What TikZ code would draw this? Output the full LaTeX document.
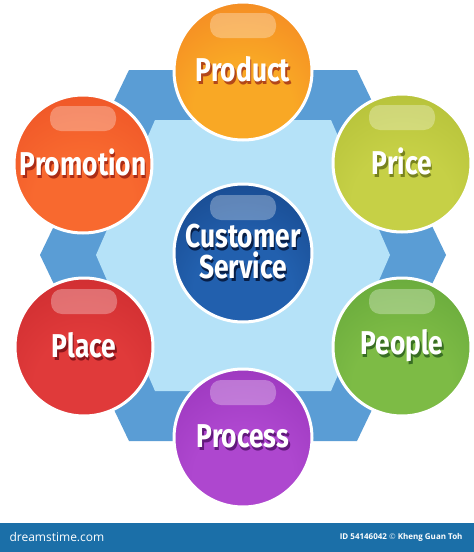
\documentclass[tikz,border=0pt]{standalone}
\usepackage{fontspec}
\newfontfamily\ballfont{Fira Sans}[FakeStretch=0.8]
\newfontfamily\barfont{Open Sans}

\definecolor{hexband}{HTML}{5A9DD5}
\definecolor{hexfill}{HTML}{B5E2F8}
\definecolor{barblue}{HTML}{1B6FA8}
\definecolor{product-in}{HTML}{F9A825}\definecolor{product-out}{HTML}{EE5F22}
\definecolor{promotion-in}{HTML}{F8692F}\definecolor{promotion-out}{HTML}{E23A1D}
\definecolor{place-in}{HTML}{E03A3A}\definecolor{place-out}{HTML}{B71C24}
\definecolor{price-in}{HTML}{C6D046}\definecolor{price-out}{HTML}{9EAD28}
\definecolor{people-in}{HTML}{7DBB45}\definecolor{people-out}{HTML}{4B922F}
\definecolor{process-in}{HTML}{AE47CF}\definecolor{process-out}{HTML}{8322A6}
\definecolor{service-in}{HTML}{2260AE}\definecolor{service-out}{HTML}{0B2C66}

\colorlet{ballin}{white}\colorlet{ballout}{black}
\pgfdeclareradialshading[ballin,ballout]{glossy}{\pgfpoint{0bp}{-18bp}}%
  {color(0bp)=(ballin); color(18bp)=(ballin); color(66bp)=(ballout); color(80bp)=(ballout)}

% text with a dark copy just below it
\newcommand{\shtext}[2]{\rlap{\hspace{1.5pt}\raisebox{-2.5pt}{\textcolor{#1}{#2}}}#2}

\begin{document}
\begin{tikzpicture}[x=1pt,y=-1pt]

    \newcommand{\ball}[4]{
        \colorlet{ballin}{#2-in}\colorlet{ballout}{#2-out}
        \node[ball] (#1) at (#3) {};
        \fill[white, opacity=0.3, rounded corners=11pt] ([shift={(-33,-58)}]#1.center) rectangle ([shift={(33,-33)}]#1.center);
        \node[balltext] (#1-label) at (#1.center) {#4};
    }

    \tikzstyle{ball}=[circle, minimum size=138pt, inner sep=0pt, shade, shading=glossy, draw=white, line width=3pt]
    \tikzstyle{balltext}=[text=white, inner sep=0pt, align=center, font=\ballfont\bfseries\fontsize{33}{26}\selectfont]

    \fill[white] (0,0) rectangle (474,552);
    \useasboundingbox (0,0) rectangle (474,552);

    % hexagon behind the balls
    \fill[hexband] (40,255) -- (129,70) -- (357,70) -- (446,255) -- (357,441) -- (129,441) -- cycle;
    \fill[hexfill] (96,255) -- (155,120) -- (331,120) -- (390,255) -- (331,391) -- (155,391) -- cycle;

    \foreach \n/\p/\t in {product/{243,71}/Product, price/{402,163}/Price, people/{402,347}/People,
                          process/{243,438}/Process, place/{84,347}/Place, promotion/{83,164}/Promotion} {
        \ball{\n}{\n}{\p}{\shtext{\n-out!75!black}{\t}}
    }
    \ball{service}{service}{243,253}{\shtext{service-out!70!black}{Customer}\\\shtext{service-out!70!black}{Service}}

    % bottom bar
    \fill[barblue] (0,523) rectangle (474,552);
    \node[right, text=white, font=\barfont\fontsize{12}{12}\selectfont] (site) at (6,537.5) {dreamstime.com};
    \node[left, text=white, font=\barfont\bfseries\fontsize{8}{8}\selectfont] (credit) at (466,537.5)
        {ID 54146042 \textcolor{white!60!barblue}{©} Kheng Guan Toh};

\end{tikzpicture}
\end{document}
